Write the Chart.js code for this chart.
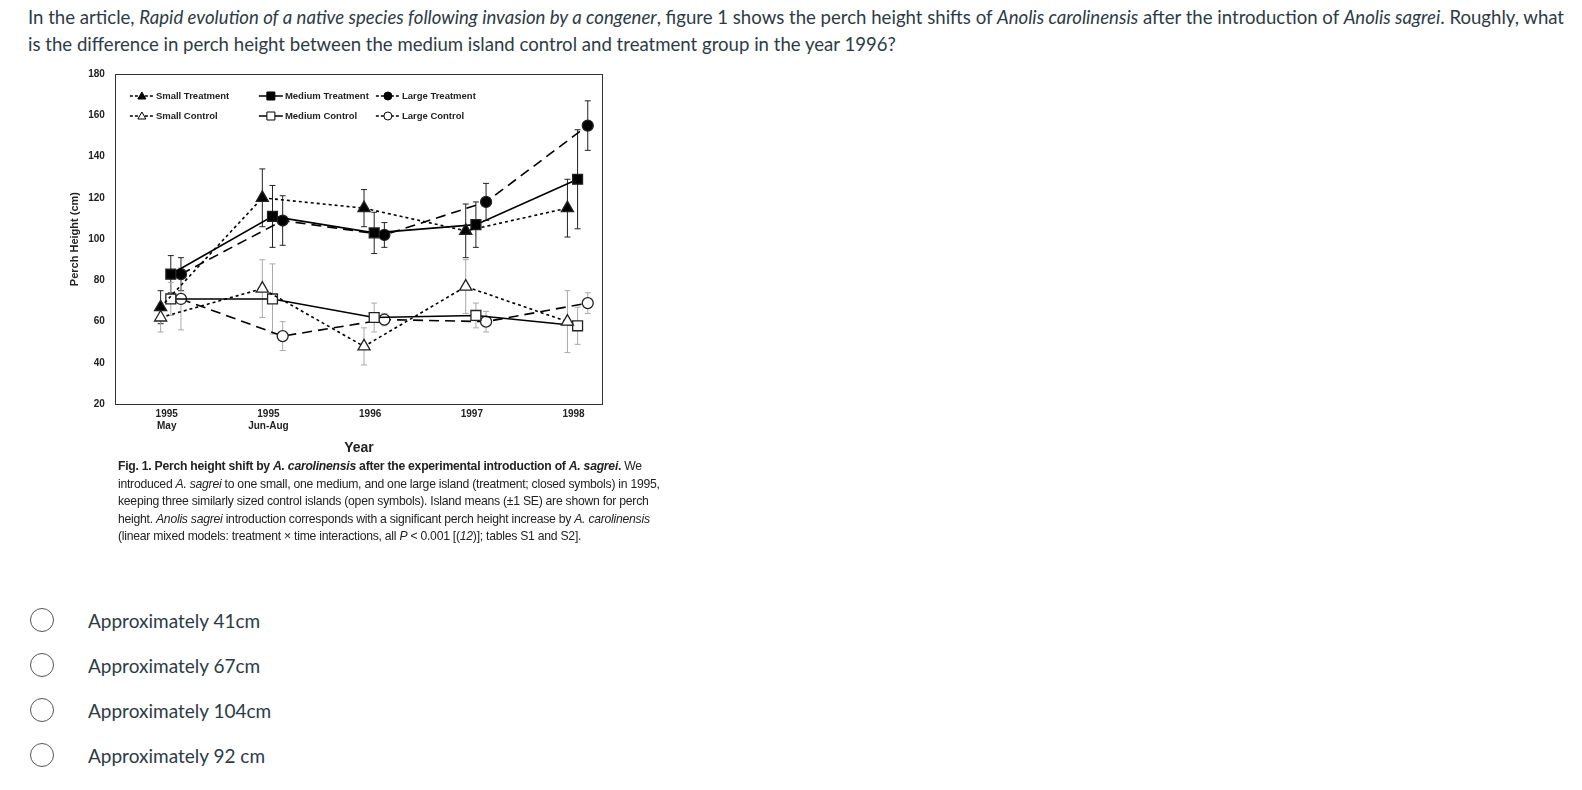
<!DOCTYPE html>
<html>
<head>
<meta charset="utf-8">
<script src="https://cdn.jsdelivr.net/npm/chart.js@4"></script>
<style>
  body { margin: 0; background: #fff; font-family: Lato, "Open Sans", sans-serif; color: #2d3b45; }
  .q { position: absolute; left: 28px; top: 4px; width: 1540px; font-size: 18.6px; line-height: 27px; }
  .wrap { position: absolute; left: 64px; top: 65px; width: 548px; height: 396px; }
  .cap { position: absolute; left: 118px; top: 458px; width: 548px; font-family: Arial, "Liberation Sans", sans-serif; font-size: 12.2px; letter-spacing: -0.25px; line-height: 17.5px; color: #222; }
  .opt { position: absolute; left: 30px; font-size: 19px; display: flex; align-items: center; }
  .opt span.r { width: 24px; height: 24px; border: 1.5px solid #555; border-radius: 50%; margin-right: 34px; box-sizing: border-box; }
</style>
</head>
<body>
<div class="q">In the article, <i>Rapid evolution of a native species following invasion by a congener</i>, figure 1 shows the perch height shifts of <i>Anolis carolinensis</i> after the introduction of <i>Anolis sagrei</i>. Roughly, what is the difference in perch height between the medium island control and treatment group in the year 1996?</div>
<div class="wrap"><canvas id="c"></canvas></div>
<div class="cap"><b>Fig. 1. Perch height shift by <i>A. carolinensis</i> after the experimental introduction of <i>A. sagrei</i>.</b> We introduced <i>A. sagrei</i> to one small, one medium, and one large island (treatment; closed symbols) in 1995, keeping three similarly sized control islands (open symbols). Island means (±1 SE) are shown for perch height. <i>Anolis sagrei</i> introduction corresponds with a significant perch height increase by <i>A. carolinensis</i> (linear mixed models: treatment × time interactions, all <i>P</i> &lt; 0.001 [(<i>12</i>)]; tables S1 and S2].</div>
<div class="opt" style="top:608px"><span class="r"></span>Approximately 41cm</div>
<div class="opt" style="top:653px"><span class="r"></span>Approximately 67cm</div>
<div class="opt" style="top:698px"><span class="r"></span>Approximately 104cm</div>
<div class="opt" style="top:743px"><span class="r"></span>Approximately 92 cm</div>
<script>
const periods = [['1995', 'May'], ['1995', 'Jun-Aug'], '1996', '1997', '1998'];

const smallTreatment = [67, 120, 115, 104, 115];
const smallTreatmentSE = [8, 14, 9, 13, 14];
const mediumTreatment = [83, 111, 103, 107, 129];
const mediumTreatmentSE = [9, 15, 10, 11, 24];
const largeTreatment = [83, 109, 102, 118, 155];
const largeTreatmentSE = [8, 12, 6, 9, 12];
const smallControl = [62, 76, 48, 77, 60];
const smallControlSE = [7, 14, 9, 13, 15];
const mediumControl = [71, 71, 62, 63, 58];
const mediumControlSE = [8, 17, 7, 6, 9];
const largeControl = [71, 53, 61, 60, 69];
const largeControlSE = [15, 7, 3, 5, 5];

function pts(values, shift) {
  return values.map((v, i) => ({ x: i + shift, y: v }));
}

function series(label, values, se, shift, style, dash, filled) {
  return {
    label, data: pts(values, shift), se, grey: !filled,
    borderColor: '#000', borderWidth: 1.6, borderDash: dash,
    pointStyle: style, pointRadius: style === 'circle' ? 5.5 : 7,
    pointBackgroundColor: filled ? '#000' : '#fff', pointBorderColor: '#222', pointBorderWidth: 1.3,
    tension: 0
  };
}

const datasets = [
  series('Small Treatment', smallTreatment, smallTreatmentSE, -0.06, 'triangle', [3, 3], true),
  series('Medium Treatment', mediumTreatment, mediumTreatmentSE, 0.04, 'rect', [], true),
  series('Large Treatment', largeTreatment, largeTreatmentSE, 0.14, 'circle', [10, 6], true),
  series('Small Control', smallControl, smallControlSE, -0.06, 'triangle', [3, 3], false),
  series('Medium Control', mediumControl, mediumControlSE, 0.04, 'rect', [], false),
  series('Large Control', largeControl, largeControlSE, 0.14, 'circle', [10, 6], false)
];

const errorBars = {
  id: 'errorBars',
  beforeDatasetsDraw(chart) {
    const { ctx, scales: { x, y } } = chart;
    ctx.save();
    chart.data.datasets.forEach(ds => {
      ctx.strokeStyle = ds.grey ? '#aaa' : '#222';
      ctx.lineWidth = 1;
      ds.data.forEach((p, i) => {
        const px = x.getPixelForValue(p.x);
        const top = y.getPixelForValue(p.y + ds.se[i]);
        const bot = y.getPixelForValue(p.y - ds.se[i]);
        ctx.beginPath();
        ctx.moveTo(px, top); ctx.lineTo(px, bot);
        ctx.moveTo(px - 3, top); ctx.lineTo(px + 3, top);
        ctx.moveTo(px - 3, bot); ctx.lineTo(px + 3, bot);
        ctx.stroke();
      });
    });
    ctx.restore();
  }
};

const legendBox = {
  id: 'legendBox',
  afterDraw(chart) {
    const { ctx, chartArea } = chart;
    ctx.save();
    ctx.font = 'bold 9.5px Arial';
    ctx.textBaseline = 'middle';
    const cols = [chartArea.left + 14, chartArea.left + 143, chartArea.left + 260];
    chart.data.datasets.forEach((ds, i) => {
      const x0 = cols[i % 3];
      const y0 = chartArea.top + 22 + Math.floor(i / 3) * 20;
      ctx.strokeStyle = '#000';
      ctx.lineWidth = 1.5;
      ctx.setLineDash(ds.borderDash.length ? [3, 2] : []);
      ctx.beginPath(); ctx.moveTo(x0, y0); ctx.lineTo(x0 + 24, y0); ctx.stroke();
      ctx.setLineDash([]);
      ctx.fillStyle = ds.pointBackgroundColor;
      ctx.lineWidth = 1;
      const cx = x0 + 12;
      ctx.beginPath();
      if (ds.pointStyle === 'triangle') { ctx.moveTo(cx, y0 - 4); ctx.lineTo(cx + 4, y0 + 3); ctx.lineTo(cx - 4, y0 + 3); ctx.closePath(); }
      else if (ds.pointStyle === 'rect') { ctx.rect(cx - 4, y0 - 4, 8, 8); }
      else { ctx.arc(cx, y0, 4, 0, Math.PI * 2); }
      ctx.fill(); ctx.stroke();
      ctx.fillStyle = '#222';
      ctx.fillText(ds.label, x0 + 26, y0);
    });
    ctx.restore();
  }
};

new Chart(document.getElementById('c'), {
  type: 'line',
  data: { datasets },
  plugins: [errorBars, legendBox],
  options: {
    responsive: true, maintainAspectRatio: false, animation: false,
    layout: { padding: { top: 8, right: 10 } },
    plugins: { legend: { display: false }, tooltip: { enabled: false } },
    scales: {
      x: {
        type: 'linear', min: -0.5, max: 4.28,
        grid: { display: false, drawTicks: false },
        border: { color: '#333' },
        afterBuildTicks: axis => { axis.ticks = periods.map((_, i) => ({ value: i })); },
        ticks: { color: '#222', font: { family: 'Arial', weight: 'bold', size: 10 }, maxRotation: 0, padding: 4, callback: v => periods[v] },
        title: { display: true, text: 'Year', color: '#222', font: { family: 'Arial', weight: 'bold', size: 14 } }
      },
      x2: {
        position: 'top', type: 'linear', grid: { display: false, drawTicks: false }, ticks: { display: false }, border: { color: '#333' }
      },
      y: {
        min: 20, max: 180,
        grid: { display: false },
        border: { color: '#333' },
        ticks: { stepSize: 20, color: '#222', font: { family: 'Arial', weight: 'bold', size: 10 } },
        title: { display: true, text: 'Perch Height (cm)', color: '#222', font: { family: 'Arial', weight: 'bold', size: 11 } }
      },
      y2: {
        position: 'right', grid: { display: false, drawTicks: false }, ticks: { display: false }, border: { color: '#333' }
      }
    }
  }
});
</script>
</body>
</html>
